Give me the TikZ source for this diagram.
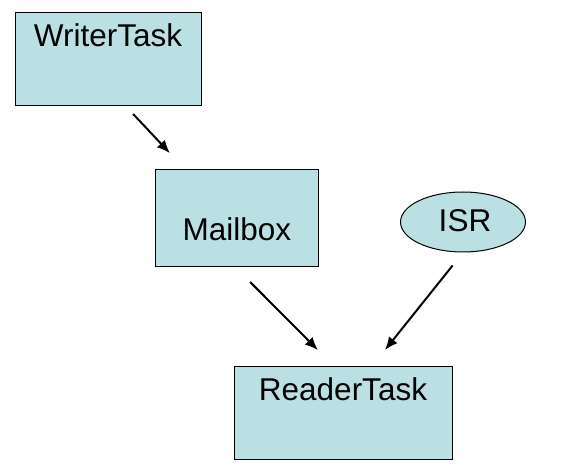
\documentclass[tikz,border=0pt]{standalone}
\usepackage{fontspec}
\setmainfont{Liberation Sans}
\usetikzlibrary{arrows.meta,shapes.geometric}
\definecolor{boxfill}{HTML}{BBE0E3}
\begin{document}
\begin{tikzpicture}[x=1pt,y=-1pt,
  box/.style={draw=black,line width=1pt,fill=boxfill,rectangle,inner sep=0pt,anchor=north west},
  oval/.style={draw=black,line width=1pt,fill=boxfill,ellipse,inner sep=0pt},
  lbl/.style={anchor=base,inner sep=0pt,font=\fontsize{31.5}{36}\selectfont},
  conn/.style={line width=2pt,-{Latex[length=13pt,width=11pt]}}]
\useasboundingbox (0,0) rectangle (563,470);
\node[box,minimum width=186pt,minimum height=93pt] (wt) at (15,12) {};
\node[box,minimum width=163pt,minimum height=97pt] (mb) at (155,169) {};
\node[box,minimum width=218pt,minimum height=93pt] (rt) at (234,366) {};
\node[oval,minimum width=125pt,minimum height=60pt] (isr) at (463,222) {};
\node[lbl] (twt) at (108,47) {WriterTask};
\node[lbl] (tmb) at (237,241) {Mailbox};
\node[lbl] (trt) at (343,401) {ReaderTask};
\node[lbl] (tisr) at (465,232) {ISR};
\draw[conn,shorten <=10.9pt,shorten >=21.8pt] ([xshift=110.6pt]wt.south west) -- ([xshift=29.8pt]mb.north west);
\draw[conn,shorten <=21.1pt,shorten >=22.5pt] ([xshift=80.2pt]mb.south west) -- ([xshift=99.8pt]rt.north west);
\draw[conn,shorten <=16.6pt,shorten >=20.5pt] (isr.south) -- ([xshift=138.2pt]rt.north west);
\end{tikzpicture}
\end{document}
